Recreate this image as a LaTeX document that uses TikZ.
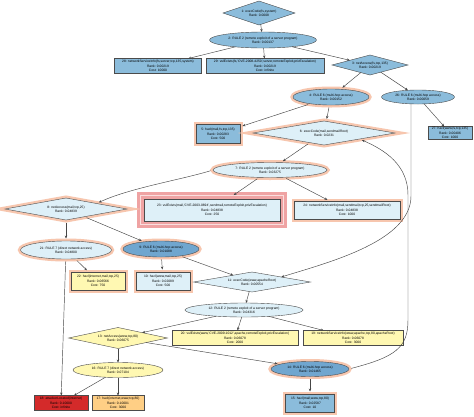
\documentclass[tikz,border=0pt]{standalone}
\usepackage{fontspec}
\setmainfont{Liberation Sans}
\usetikzlibrary{shapes.geometric,arrows.meta}
\definecolor{medblue}{RGB}{139,188,219}
\definecolor{darkblue}{RGB}{112,166,207}
\definecolor{lightblue}{RGB}{222,240,248}
\definecolor{paleyellow}{RGB}{255,248,178}
\definecolor{redc}{RGB}{212,42,42}
\definecolor{orangec}{RGB}{255,207,133}
\definecolor{peach}{RGB}{247,198,174}
\definecolor{pinkc}{RGB}{239,163,163}
\definecolor{pinkl}{RGB}{250,222,222}
\definecolor{bord}{RGB}{75,75,75}
\definecolor{edgec}{RGB}{70,70,70}
\begin{document}
\begin{tikzpicture}[x=1pt,y=-1pt,
  base/.style={draw=bord, line width=0.4pt, inner sep=0pt, outer sep=0pt},
  rbox/.style={base, rectangle},
  ell/.style={base, ellipse},
  dia/.style={base, diamond},
  halo/.style={preaction={draw=peach, line width=5pt}},
  lbl/.style={inner sep=0pt, align=center, font=\fontsize{3.3}{4.3}\selectfont},
  arr/.style={draw=edgec, line width=0.45pt, -{Stealth[length=3pt,width=2.4pt]}},
  hs/.style={shorten >=2.5pt},
  hsrc/.style={shorten <=2.5pt}
]
\useasboundingbox[fill=white] (0,0) rectangle (474,416);

% ---- shapes ----
\node[dia, fill=medblue, minimum width=72pt, minimum height=24pt] (n1) at (259,13) {};
\node[ell, fill=medblue, minimum width=107pt, minimum height=16pt] (n2) at (263,40) {};
\node[rbox, fill=medblue, minimum width=87pt, minimum height=15pt] (n28) at (158,66) {};
\node[rbox, fill=medblue, minimum width=118pt, minimum height=15pt] (n29) at (265,66) {};
\node[dia, fill=medblue, minimum width=76pt, minimum height=20pt] (n3) at (370,65) {};
\node[ell, halo, fill=medblue, minimum width=76pt, minimum height=16pt] (n4) at (331,97) {};
\node[ell, fill=medblue, minimum width=73pt, minimum height=14pt] (n26) at (418,97) {};
\node[rbox, fill=medblue, minimum width=44pt, minimum height=13pt] (n27) at (450,133) {};
\node[rbox, halo, fill=medblue, minimum width=44pt, minimum height=19pt] (n5) at (218,134) {};
\node[dia, halo, fill=lightblue, minimum width=142pt, minimum height=24pt] (n6) at (324,133) {};
\node[ell, halo, fill=lightblue, minimum width=114pt, minimum height=15pt] (n7) at (270,170) {};
\node[rbox, fill=lightblue, minimum width=136pt, minimum height=22pt,
  preaction={draw=pinkc, line width=14pt},
  preaction={draw=pinkl, line width=8pt},
  preaction={draw=pinkc, line width=6pt}] (n23) at (212,210) {};
\node[rbox, halo, fill=lightblue, minimum width=106pt, minimum height=18pt] (n24) at (347,210) {};
\node[dia, halo, fill=lightblue, minimum width=122pt, minimum height=22pt] (n8) at (66,209) {};
\node[ell, halo, fill=lightblue, minimum width=91pt, minimum height=18pt] (n21) at (66,250) {};
\node[ell, halo, fill=darkblue, minimum width=76pt, minimum height=16pt] (n9) at (161,249) {};
\node[rbox, halo, fill=paleyellow, minimum width=54pt, minimum height=18pt] (n22) at (98,281) {};
\node[rbox, halo, fill=lightblue, minimum width=54pt, minimum height=18pt] (n10) at (163,281) {};
\node[dia, fill=lightblue, minimum width=117pt, minimum height=20pt] (n11) at (252,282) {};
\node[ell, fill=lightblue, minimum width=118pt, minimum height=14pt] (n12) at (244,310) {};
\node[rbox, fill=paleyellow, minimum width=126pt, minimum height=15pt] (n20) at (235,338) {};
\node[rbox, fill=paleyellow, minimum width=100pt, minimum height=15pt] (n19) at (353,338) {};
\node[dia, fill=paleyellow, minimum width=99pt, minimum height=21pt] (n13) at (118,338) {};
\node[ell, fill=paleyellow, minimum width=90pt, minimum height=15pt] (n16) at (118,370) {};
\node[rbox, fill=redc, minimum width=54pt, minimum height=15pt] (n18) at (61,403) {};
\node[rbox, fill=orangec, minimum width=52pt, minimum height=15pt] (n17) at (118,403) {};
\node[ell, halo, fill=darkblue, minimum width=78pt, minimum height=15pt] (n14) at (310,369) {};
\node[rbox, halo, fill=medblue, minimum width=49pt, minimum height=18pt] (n15) at (310,403) {};

% ---- labels ----
\node[lbl] (t1) at (n1) {1: execCode(fs,system)\\Rank: 0.0008};
\node[lbl] (t2) at (n2) {2: RULE 2 (remote exploit of a server program)\\Rank: 0.00137};
\node[lbl] (t28) at (n28) {28: networkServiceInfo(fs,server,tcp,135,system)\\Rank: 0.00219\\Cost: 10000};
\node[lbl] (t29) at (n29) {29: vulExists(fs,'CVE-2008-4250',server,remoteExploit,privEscalation)\\Rank: 0.00219\\Cost: infinite};
\node[lbl] (t3) at (n3) {3: netAccess(fs,tcp,135)\\Rank: 0.00219};
\node[lbl] (t4) at (n4) {4: RULE 6 (multi-hop access)\\Rank: 0.00152};
\node[lbl] (t26) at (n26) {26: RULE 6 (multi-hop access)\\Rank: 0.00059};
\node[lbl] (t27) at (n27) {27: hacl(www,fs,tcp,135)\\Rank: 0.00406\\Cost: 1000};
\node[lbl] (t5) at (n5) {5: hacl(mail,fs,tcp,135)\\Rank: 0.00283\\Cost: 500};
\node[lbl] (t6) at (n6) {6: execCode(mail,sendmailRoot)\\Rank: 0.0231};
\node[lbl] (t7) at (n7) {7: RULE 2 (remote exploit of a server program)\\Rank: 0.03275};
\node[lbl] (t23) at (n23) {23: vulExists(mail,'CVE-2003-0694',sendmail,remoteExploit,privEscalation)\\Rank: 0.04838\\Cost: 250};
\node[lbl] (t24) at (n24) {24: networkServiceInfo(mail,sendmail,tcp,25,sendmailRoot)\\Rank: 0.04838\\Cost: 1000};
\node[lbl] (t8) at (n8) {8: netAccess(mail,tcp,25)\\Rank: 0.04839};
\node[lbl] (t21) at (n21) {21: RULE 7 (direct network access)\\Rank: 0.04800};
\node[lbl] (t9) at (n9) {9: RULE 6 (multi-hop access)\\Rank: 0.01088};
\node[lbl] (t22) at (n22) {22: hacl(internet,mail,tcp,25)\\Rank: 0.06566\\Cost: 750};
\node[lbl] (t10) at (n10) {10: hacl(www,mail,tcp,25)\\Rank: 0.02089\\Cost: 500};
\node[lbl] (t11) at (n11) {11: execCode(www,apacheRoot)\\Rank: 0.00554};
\node[lbl] (t12) at (n12) {12: RULE 2 (remote exploit of a server program)\\Rank: 0.04316};
\node[lbl] (t20) at (n20) {20: vulExists(www,'CVE-2009-1012',apache,remoteExploit,privEscalation)\\Rank: 0.06078\\Cost: 2000};
\node[lbl] (t19) at (n19) {19: networkServiceInfo(www,apache,tcp,80,apacheRoot)\\Rank: 0.06078\\Cost: 3000};
\node[lbl] (t13) at (n13) {13: netAccess(www,tcp,80)\\Rank: 0.06075};
\node[lbl] (t16) at (n16) {16: RULE 7 (direct network access)\\Rank: 0.07104};
\node[lbl] (t18) at (n18) {18: attackerLocated(internet)\\Rank: 0.10000\\Cost: infinite};
\node[lbl] (t17) at (n17) {17: hacl(internet,www,tcp,80)\\Rank: 0.10001\\Cost: 3000};
\node[lbl] (t14) at (n14) {14: RULE 6 (multi-hop access)\\Rank: 0.01465};
\node[lbl] (t15) at (n15) {15: hacl(mail,www,tcp,80)\\Rank: 0.02587\\Cost: 10};

% ---- connectors ----
\draw[arr] (n1) -- (n2);
\draw[arr] (n2) -- (n28);
\draw[arr] (n2) -- (n29);
\draw[arr] (n2) -- (n3);
\draw[arr,hs] (n3) -- (n4);
\draw[arr] (n3) -- (n26);
\draw[arr,hsrc,hs] (n4) -- (n5);
\draw[arr,hsrc,hs] (n4) -- (n6);
\draw[arr] (n26) -- (n27);
\draw[arr] ([xshift=-7pt]n26.south) -- ++(0,92) .. controls +(0,45) and (330,262) .. (n11.north east);
\draw[arr,hsrc,hs] (n14.east) .. controls (395,357) and (408,348) .. (408,320) -- (408,195) .. controls (408,165) and (385,150) .. (n6.south east);
\draw[arr,hsrc,hs] (n6) -- (n7);
\draw[arr,hsrc,shorten >=7pt] (n7) -- (n23);
\draw[arr,hsrc,hs] (n7) -- (n24);
\draw[arr,hsrc,hs] (n7.west) .. controls (180,180) and (130,188) .. (n8.north east);
\draw[arr,hsrc,hs] (n8) -- (n21);
\draw[arr,hsrc,hs] (n8) -- (n9);
\draw[arr,hsrc,hs] (n21) -- (n22);
\draw[arr,hsrc] (n21) -- (n18);
\draw[arr,hsrc,hs] (n9) -- (n10);
\draw[arr,hsrc] (n9) -- (n11);
\draw[arr] (n11) -- (n12);
\draw[arr] (n12) -- (n20);
\draw[arr] (n12) -- (n19);
\draw[arr] (n12) -- (n13);
\draw[arr] (n13) -- (n16);
\draw[arr,hs] (n13) -- (n14);
\draw[arr] (n16) -- (n18);
\draw[arr] (n16) -- (n17);
\draw[arr,hsrc,hs] (n14) -- (n15);
\end{tikzpicture}
\end{document}
